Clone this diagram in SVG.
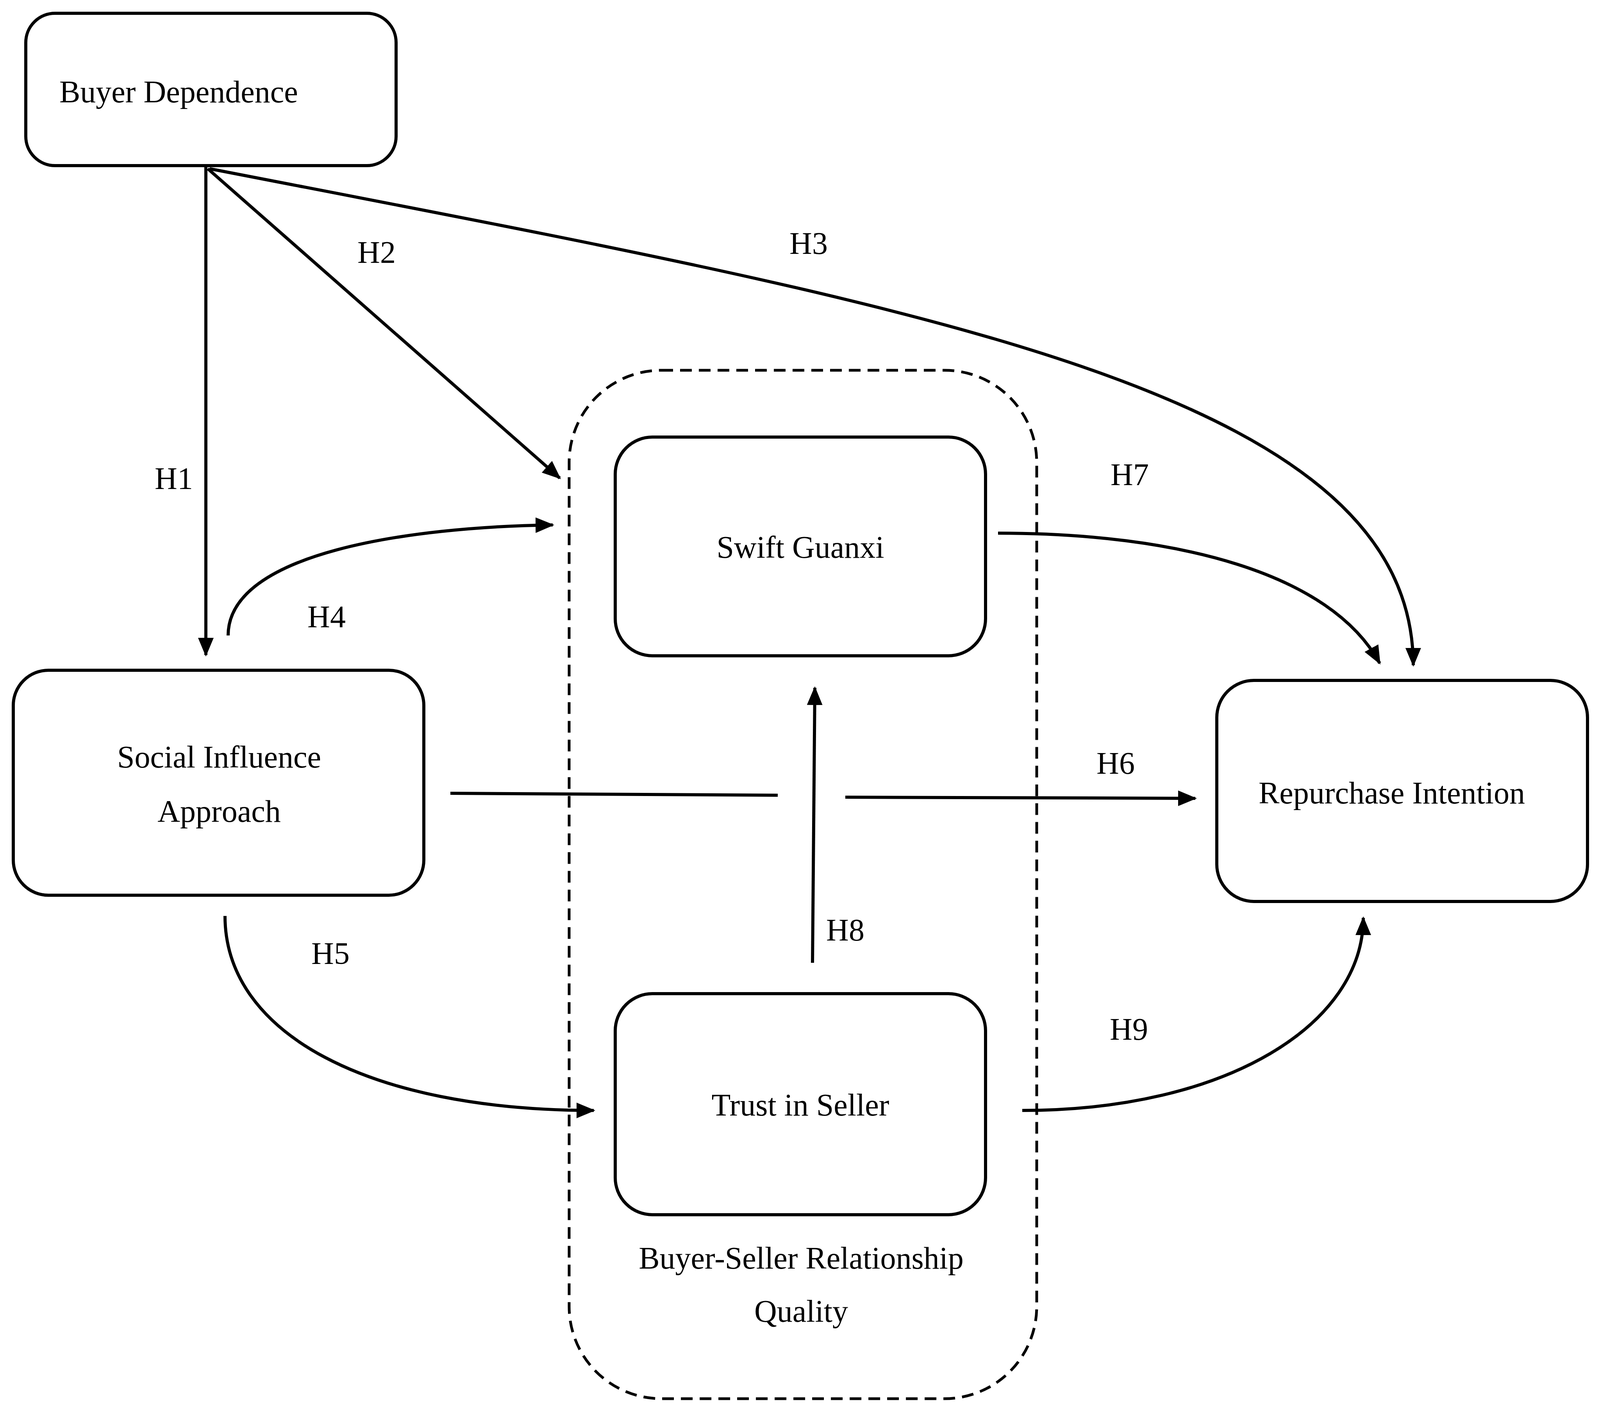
<svg xmlns="http://www.w3.org/2000/svg" width="4108" height="3633" viewBox="0 0 4108 3633">
<style>
.box{fill:#fff;stroke:#000;stroke-width:8}
.t{font-family:"Liberation Serif",serif;font-size:80px;fill:#000}
.c{stroke:#000;stroke-width:8;fill:none}
.m{text-anchor:middle}
</style>
<defs>
<marker id="a" markerUnits="userSpaceOnUse" markerWidth="48" markerHeight="40" refX="44" refY="20" orient="auto"><path d="M0,0 L48,20 L0,40 Z" fill="#000"/></marker>
</defs>
<rect width="4108" height="3633" fill="#fff"/>
<g id="container"><rect x="1457" y="948" width="1197" height="2633" rx="236" fill="none" stroke="#000" stroke-width="7" stroke-dasharray="30,18"/>
<text class="t m" x="2051" y="3248">Buyer-Seller Relationship</text><text class="t m" x="2051" y="3384">Quality</text></g>
<g id="buyer"><rect class="box" x="66" y="34" width="948" height="390" rx="75"/><text class="t" x="152" y="262">Buyer Dependence</text></g>
<g id="social"><rect class="box" x="34" y="1716" width="1051" height="576" rx="90"/><text class="t m" x="561" y="1965">Social Influence</text><text class="t m" x="561" y="2104">Approach</text></g>
<g id="swift"><rect class="box" x="1575" y="1119" width="948" height="560" rx="95"/><text class="t m" x="2049" y="1428">Swift Guanxi</text></g>
<g id="trust"><rect class="box" x="1575" y="2544" width="948" height="566" rx="95"/><text class="t m" x="2049" y="2856">Trust in Seller</text></g>
<g id="repurchase"><rect class="box" x="3115" y="1742" width="949" height="566" rx="95"/><text class="t m" x="3563" y="2057">Repurchase Intention</text></g>
<g id="connectors">
<path class="c" d="M527,424 L527,1677" marker-end="url(#a)"/>
<path class="c" d="M532,432 L1433,1224" marker-end="url(#a)"/>
<path class="c" d="M537,432 C2358,786 3616,996 3618,1703" marker-end="url(#a)"/>
<path class="c" d="M584,1627 C584,1415 1048,1349 1415,1344" marker-end="url(#a)"/>
<path class="c" d="M576,2345 C576,2646 943,2843 1520,2843" marker-end="url(#a)"/>
<path class="c" d="M1153,2031 L1991,2036"/>
<path class="c" d="M2164,2041 L3060,2044" marker-end="url(#a)"/>
<path class="c" d="M2555,1365 C3013,1365 3406,1467 3532,1698" marker-end="url(#a)"/>
<path class="c" d="M2080,2465 L2086,1761" marker-end="url(#a)"/>
<path class="c" d="M2617,2843 C3144,2843 3490,2620 3490,2350" marker-end="url(#a)"/>
<text class="t m" x="445" y="1252">H1</text>
<text class="t m" x="964" y="673">H2</text>
<text class="t m" x="2070" y="650">H3</text>
<text class="t m" x="836" y="1606">H4</text>
<text class="t m" x="846" y="2468">H5</text>
<text class="t m" x="2856" y="1981">H6</text>
<text class="t m" x="2892" y="1242">H7</text>
<text class="t m" x="2164" y="2408">H8</text>
<text class="t m" x="2890" y="2662">H9</text>
</g>
</svg>
